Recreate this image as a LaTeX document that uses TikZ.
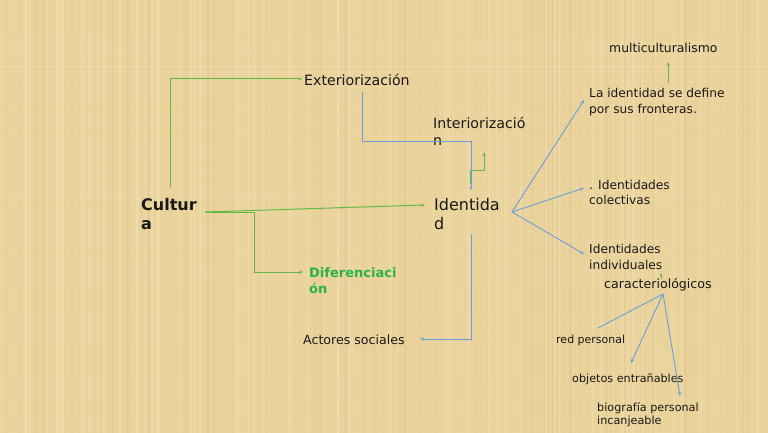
\documentclass[tikz,border=0pt]{standalone}
\usepackage{fontspec}
\setmainfont{DejaVu Sans}
\usetikzlibrary{arrows.meta}
\definecolor{bg}{RGB}{234,210,155}
\definecolor{bglight}{RGB}{245,228,185}
\definecolor{bgdark}{RGB}{214,186,128}
\definecolor{gline}{RGB}{98,186,72}
\definecolor{bline}{RGB}{104,160,220}
\definecolor{gtext}{RGB}{40,180,70}
\definecolor{ink}{RGB}{25,25,25}
\tikzset{
  lbl/.style={anchor=west, align=left, inner sep=0pt, text=ink},
  gconn/.style={draw=gline, line width=1pt},
  bconn/.style={draw=bline, line width=0.9pt},
  tip/.style={-{Stealth[length=4pt,width=3.2pt]}}
}
\begin{document}
\begin{tikzpicture}[x=1pt,y=-1pt]
\fill[bg] (0,0) rectangle (768,433);
\pgfmathsetseed{7}
\foreach \i in {1,...,120}{
  \pgfmathsetmacro{\xx}{rnd*768}
  \pgfmathsetmacro{\ww}{0.5+rnd*2}
  \fill[bglight, opacity=0.35] (\xx,0) rectangle ++(\ww,433);
}
\foreach \i in {1,...,80}{
  \pgfmathsetmacro{\xx}{rnd*768}
  \pgfmathsetmacro{\ww}{0.5+rnd*1.5}
  \fill[bgdark, opacity=0.18] (\xx,0) rectangle ++(\ww,433);
}
\foreach \i in {1,...,60}{
  \pgfmathsetmacro{\yy}{rnd*433}
  \fill[bglight, opacity=0.2] (0,\yy) rectangle ++(768,1);
}
\useasboundingbox (0,0) rectangle (768,433);
% nodes
\node[lbl, font=\fontsize{16}{19}\selectfont\bfseries] (cul) at (141,214) {Cultur\\a};
\node[lbl, font=\fontsize{14.2}{17}\selectfont] (ext) at (304,80) {Exteriorización};
\node[lbl, font=\fontsize{14.2}{17}\selectfont] (int) at (433,131.5) {Interiorizació\\n};
\node[lbl, font=\fontsize{16}{19}\selectfont] (ide) at (434,214) {Identida\\d};
\node[lbl, font=\fontsize{13}{16}\selectfont\bfseries, text=gtext] (dif) at (309,281) {Diferenciaci\\ón};
\node[lbl, font=\fontsize{12.6}{15}\selectfont] (act) at (303,340) {Actores sociales};
\node[lbl, font=\fontsize{12.4}{15}\selectfont] (mul) at (609,48) {multiculturalismo};
\node[lbl, font=\fontsize{12.2}{16}\selectfont] (fro) at (589,102) {La identidad se define\\por sus fronteras.};
\node[lbl, font=\fontsize{12.2}{15.5}\selectfont] (col) at (589,192.5) {. Identidades\\colectivas};
\node[lbl, font=\fontsize{12.2}{16}\selectfont] (ind) at (589,257) {Identidades\\individuales};
\node[lbl, font=\fontsize{12.6}{15}\selectfont] (car) at (604,285) {caracteriológicos};
\node[lbl, font=\fontsize{11}{13}\selectfont] (red) at (556,340) {red personal};
\node[lbl, font=\fontsize{11.2}{13}\selectfont] (obj) at (572,379) {objetos entrañables};
\node[lbl, font=\fontsize{11.2}{13.5}\selectfont] (bio) at (597,414.5) {biografía personal\\incanjeable};
% coordinates
\coordinate (cx) at (170,187);
\coordinate (ce) at (302,79);
\coordinate (cs) at (205,212);
\coordinate (ci) at (425,205);
\coordinate (cb) at (254,272);
\coordinate (cd) at (303,272);
\coordinate (gi1) at (470,184);
\coordinate (gi2) at (484,170);
\coordinate (gi3) at (484,152);
\coordinate (eb) at (362,92);
\coordinate (bk) at (471,141);
\coordinate (it) at (471,190);
\coordinate (ib) at (471,234);
\coordinate (at) at (420,339);
\coordinate (fan) at (512,212);
\coordinate (ff) at (584,100);
\coordinate (fc) at (584,188);
\coordinate (fi) at (584,254);
\coordinate (cf) at (663,294);
\coordinate (cr) at (598,328);
\coordinate (co) at (631,363);
\coordinate (cbio) at (680,396);
\coordinate (m1) at (668,83);
\coordinate (m2) at (668,62);
\coordinate (k1) at (661,279);
\coordinate (k2) at (661,273);
% green connectors
\draw[gconn, tip] (cx) |- (ce);
\draw[gconn, tip] (cs) -- (ci);
\draw[gconn, tip] (cs) -| (cb) -- (cd);
\draw[gconn, tip] (gi1) |- (gi2) -- (gi3);
\draw[gconn, tip] (m1) -- (m2);
\draw[gconn, tip] (k1) -- (k2);
% blue connectors
\draw[bconn, tip] (eb) |- (bk) -- (it);
\draw[bconn, tip] (ib) |- (at);
\draw[bconn, tip] (fan) -- (ff);
\draw[bconn, tip] (fan) -- (fc);
\draw[bconn, tip] (fan) -- (fi);
\draw[bconn] (cf) -- (cr);
\draw[bconn, tip] (cf) -- (co);
\draw[bconn, tip] (cf) -- (cbio);
\end{tikzpicture}
\end{document}
